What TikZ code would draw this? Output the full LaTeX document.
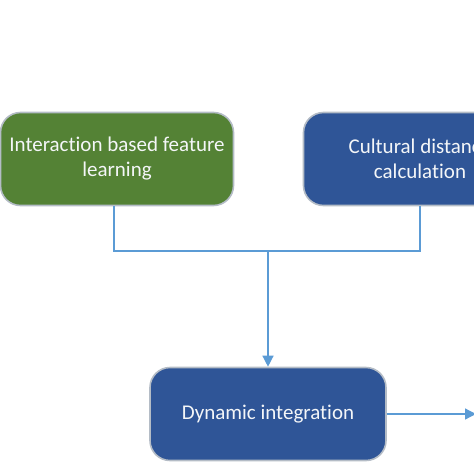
\documentclass[tikz,border=0pt]{standalone}
\usepackage{fontspec}
\setmainfont{Carlito}[Ligatures=NoCommon]
\usetikzlibrary{arrows.meta,positioning}
\definecolor{boxgreen}{HTML}{548235}
\definecolor{boxblue}{HTML}{2F5597}
\definecolor{rim}{HTML}{B4BCC6}
\definecolor{linkblue}{HTML}{5B9BD5}
\definecolor{txt}{HTML}{F4F6F8}
\tikzset{
  procbox/.style={draw=rim, line width=1.6pt, rounded corners=20pt, minimum width=233pt, minimum height=93pt, text=txt, font=\fontsize{21}{25}\selectfont, align=center, inner sep=2pt},
  link/.style={draw=linkblue, line width=1.3pt},
  tip/.style={-{Triangle[length=11pt,width=11pt]}}
}
\begin{document}
\begin{tikzpicture}[x=1pt,y=-1pt]
\useasboundingbox (0,0) rectangle (474,474);
\clip (0,0) rectangle (474,474);
\fill[white] (0,0) rectangle (474,474);
\node[procbox, fill=boxgreen] (feat) at (117,159) {Interaction based feature\\learning};
\node[procbox, fill=boxblue] (cult) at (420,159) {Cultural distance\\calculation};
\node[procbox, fill=boxblue, minimum width=236pt] (dyn) at (268,414) {Dynamic integration};
\coordinate (join) at (268,251);
\coordinate (out) at (476,414);
\draw[link] (feat.south -| 114,0) |- (join) -| (cult.south -| 420,0);
\draw[link, tip] (join) -- (dyn.north);
\draw[link, tip] (dyn.east) -- (out);
\end{tikzpicture}
\end{document}
